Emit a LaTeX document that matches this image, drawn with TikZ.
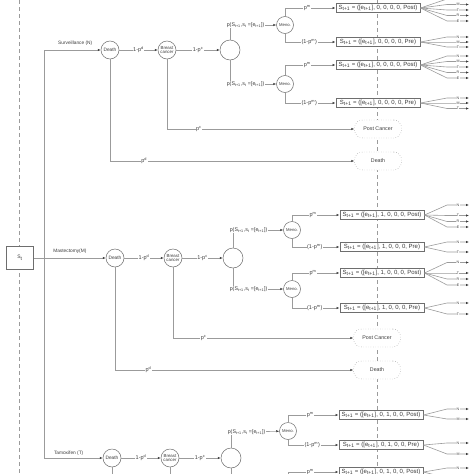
\documentclass[tikz,border=0pt]{standalone}
\usepackage{fontspec}
\setmainfont{Liberation Sans}
\setsansfont{Liberation Sans}
\usepackage{tikz}
\usetikzlibrary{
  arrows.meta,
  positioning,  % Function "of" (e.g. [right=of x])
  calc,         % Calculations $...$
}
\definecolor{wiregray}{HTML}{9B9B9B}
\definecolor{inkgray}{HTML}{3C3C3C}
\definecolor{edgegray}{HTML}{6E6E6E}
\newcommand{\snext}[1]{S\textsubscript{t+1} = ([e\textsubscript{t+1}], #1)}
\newcommand{\pjoint}{p(S\textsubscript{t+1},s\textsubscript{t} =[e\textsubscript{t+1}])}
\newcommand{\pdeath}{p\textsuperscript{d}}
\newcommand{\pcancer}{p\textsuperscript{c}}
\newcommand{\pmen}{p\textsuperscript{m}}
% One action of the fan behind a state box: box, shift in y, action letter
\newcommand{\act}[3]{
  \coordinate (#1-#3) at ($(#1.east)+(0,#2)$);
  \draw[flow] (#1.east) -- (#1-#3 -| knee) -- node[acttag]{#3} (#1-#3 -| tip);
}
\tikzset{
  font=\sffamily,
  >={Latex[length=3pt,width=2.4pt,color=inkgray]},
  wire/.style={
    draw=wiregray,
    line width=0.6pt
  },
  flow/.style={
    wire,
    ->
  },
  timeline/.style={
    draw=wiregray,
    line width=0.6pt,
    dash pattern=on 4pt off 3pt
  },
  rootbox/.style={
    draw=edgegray,
    fill=white,
    line width=0.8pt,
    minimum width=27pt,
    minimum height=23pt,
    inner sep=0pt,
    text=inkgray,
    font=\sffamily\fontsize{5}{6}\selectfont
  },
  event/.style={
    circle,
    draw=edgegray,
    fill=white,
    line width=0.5pt,
    minimum size=18pt,
    inner sep=0pt,
    align=center,
    text=inkgray,
    font=\sffamily\fontsize{4.8}{5}\selectfont
  },
  bcfont/.style={
    font=\sffamily\fontsize{4.4}{4.6}\selectfont
  },
  chance/.style={
    circle,
    draw=edgegray,
    fill=white,
    line width=0.5pt,
    minimum size=20pt,
    inner sep=0pt
  },
  meno/.style={
    circle,
    draw=edgegray,
    fill=white,
    line width=0.5pt,
    minimum size=17pt,
    inner sep=0pt,
    text=inkgray,
    font=\sffamily\fontsize{4.2}{4.5}\selectfont
  },
  plab/.style={
    anchor=west,
    inner sep=0.6pt,
    text=inkgray,
    font=\sffamily\fontsize{5.3}{6}\selectfont
  },
  statebox/.style={
    draw=edgegray,
    fill=white,
    line width=1pt,
    minimum width=84pt,
    minimum height=9.5pt,
    inner sep=0.8pt,
    text=inkgray,
    font=\sffamily\fontsize{6}{7}\selectfont
  },
  absorb/.style={
    draw=edgegray,
    dotted,
    fill=white,
    rounded corners=8pt,
    minimum width=47pt,
    minimum height=18pt,
    inner sep=0.5pt,
    text=inkgray,
    font=\sffamily\fontsize{5.3}{6}\selectfont
  },
  prob/.style={
    fill=white,
    inner sep=0.6pt,
    text=inkgray,
    font=\sffamily\fontsize{5.5}{6}\selectfont
  },
  branchlab/.style={
    text=inkgray,
    inner sep=0.5pt,
    font=\sffamily\fontsize{4.8}{5}\selectfont
  },
  acttag/.style={
    fill=white,
    inner sep=0.3pt,
    text=inkgray,
    font=\sffamily\fontsize{3.6}{4}\selectfont
  }
}

\begin{document}
\begin{tikzpicture}[x=1pt,y=-1pt]
\clip (0,0) rectangle (474,474);
% time slices t and t+1
\coordinate (now-top)  at (19,0);
\coordinate (now-bot)  at (19,474);
\coordinate (next-top) at (377,0);
\coordinate (next-bot) at (377,474);
\coordinate (knee)     at (447,0);
\coordinate (tip)      at (469,0);
\draw[timeline] (now-top)  -- (now-bot);
\draw[timeline] (next-top) -- (next-bot);

% decision
\node[rootbox] (s) at (20,258) {S\textsubscript{t}};
\coordinate (N-root) at (44,50);
\coordinate (T-root) at (44,458);
\draw[wire] (N-root) -- (T-root);

% Surveillance
\node[event]        (N-death) at (110,50)  {Death};
\node[event,bcfont] (N-bc)    at (167,50)  {Breast\\cancer};
\node[chance]       (N-ch)    at (230,50)  {};
\node[plab]         (N-pu)    at (226,25)  {\pjoint};
\node[plab]         (N-pl)    at (226,84)  {\pjoint};
\node[meno]         (N-mu)    at (285,25)  {Meno.};
\node[meno]         (N-ml)    at (285,84)  {Meno.};
\node[statebox]     (N-b1)    at (378,8)   {\snext{0, 0, 0, 0, Post}};
\node[statebox]     (N-b2)    at (378,42)  {\snext{0, 0, 0, 0, Pre}};
\node[statebox]     (N-b3)    at (378,65)  {\snext{0, 0, 0, 0, Post}};
\node[statebox]     (N-b4)    at (378,103) {\snext{0, 0, 0, 0, Pre}};
\node[absorb]       (N-pc)    at (378,129) {Post Cancer};
\node[absorb]       (N-dd)    at (378,161) {Death};
\draw[flow] (N-root)  -- node[branchlab,above=4pt,pos=0.55]{Surveillance (N)} (N-death);
\draw[flow] (N-death) -- node[prob]{1-\pdeath} (N-bc);
\draw[flow] (N-bc)    -- node[prob]{1-\pcancer} (N-ch);
\draw[wire] (N-ch.north) -- (N-ch.north |- N-pu.south);
\draw[wire] (N-ch.south) -- (N-ch.south |- N-pl.north);
\draw[flow] (N-pu) -- (N-mu);
\draw[flow] (N-pl) -- (N-ml);
\draw[flow] (N-mu.north) |- node[prob,pos=0.72]{\pmen}     (N-b1);
\draw[flow] (N-mu.south) |- node[prob,pos=0.74]{(1-\pmen)} (N-b2);
\draw[flow] (N-ml.north) |- node[prob,pos=0.72]{\pmen}     (N-b3);
\draw[flow] (N-ml.south) |- node[prob,pos=0.74]{(1-\pmen)} (N-b4);
\draw[flow] (N-bc.south)    |- node[prob,pos=0.585]{\pcancer} (N-pc);
\draw[flow] (N-death.south) |- node[prob,pos=0.57]{\pdeath}   (N-dd);
\act{N-b1}{-9}{N} \act{N-b1}{-3.5}{M} \act{N-b1}{2}{T} \act{N-b1}{7.5}{R} \act{N-b1}{13}{E}
\act{N-b2}{-5}{N} \act{N-b2}{0}{M} \act{N-b2}{5}{T}
\act{N-b3}{-9}{N} \act{N-b3}{-3.5}{M} \act{N-b3}{2}{T} \act{N-b3}{7.5}{R} \act{N-b3}{13}{E}
\act{N-b4}{-5}{N} \act{N-b4}{0}{M} \act{N-b4}{5.5}{T}

% Mastectomy
\node[event]        (M-death) at (115,258) {Death};
\node[event,bcfont] (M-bc)    at (173,258) {Breast\\cancer};
\node[chance]       (M-ch)    at (233,258) {};
\node[plab]         (M-pu)    at (229,230) {\pjoint};
\node[plab]         (M-pl)    at (229,289) {\pjoint};
\node[meno]         (M-mu)    at (292,230) {Meno.};
\node[meno]         (M-ml)    at (292,289) {Meno.};
\node[statebox]     (M-b1)    at (382,215) {\snext{1, 0, 0, 0, Post}};
\node[statebox]     (M-b2)    at (382,247) {\snext{1, 0, 0, 0, Pre}};
\node[statebox]     (M-b3)    at (382,273) {\snext{1, 0, 0, 0, Post}};
\node[statebox]     (M-b4)    at (382,308) {\snext{1, 0, 0, 0, Pre}};
\node[absorb]       (M-pc)    at (377,338) {Post Cancer};
\node[absorb]       (M-dd)    at (377,370) {Death};
\draw[flow] (s)       -- node[branchlab,above=4pt]{Mastectomy(M)} (M-death);
\draw[flow] (M-death) -- node[prob]{1-\pdeath} (M-bc);
\draw[flow] (M-bc)    -- node[prob]{1-\pcancer} (M-ch);
\draw[wire] (M-ch.north) -- (M-ch.north |- M-pu.south);
\draw[wire] (M-ch.south) -- (M-ch.south |- M-pl.north);
\draw[flow] (M-pu) -- (M-mu);
\draw[flow] (M-pl) -- (M-ml);
\draw[flow] (M-mu.north) |- node[prob,pos=0.72]{\pmen}     (M-b1);
\draw[flow] (M-mu.south) |- node[prob,pos=0.74]{(1-\pmen)} (M-b2);
\draw[flow] (M-ml.north) |- node[prob,pos=0.72]{\pmen}     (M-b3);
\draw[flow] (M-ml.south) |- node[prob,pos=0.74]{(1-\pmen)} (M-b4);
\draw[flow] (M-bc.south)    |- node[prob,pos=0.585]{\pcancer} (M-pc);
\draw[flow] (M-death.south) |- node[prob,pos=0.57]{\pdeath}   (M-dd);
\act{M-b1}{-10}{N} \act{M-b1}{0.5}{T} \act{M-b1}{6.5}{R} \act{M-b1}{12}{E}
\act{M-b2}{-5}{N} \act{M-b2}{5}{T}
\act{M-b3}{-10.5}{N} \act{M-b3}{0}{T} \act{M-b3}{6}{R} \act{M-b3}{12}{E}
\act{M-b4}{-5}{N} \act{M-b4}{6}{T}

% Tamoxifen (runs on below the frame)
\node[event]        (T-death) at (112,458) {Death};
\node[event,bcfont] (T-bc)    at (170,458) {Breast\\cancer};
\node[chance]       (T-ch)    at (231,458) {};
\node[plab]         (T-pu)    at (227,432) {\pjoint};
\node[meno]         (T-mu)    at (288,431) {Meno.};
\node[statebox]     (T-b1)    at (381,415) {\snext{0, 1, 0, 0, Post}};
\node[statebox]     (T-b2)    at (381,445) {\snext{0, 1, 0, 0, Pre}};
\node[statebox]     (T-b3)    at (381,472) {\snext{0, 1, 0, 0, Post}};
\coordinate (T-ml) at (288,482);
\coordinate (T-pl) at (231,474);
\coordinate (T-pc) at (170,474);
\coordinate (T-dd) at (112,474);
\draw[flow] (T-root)  -- node[branchlab,above=1.5pt,pos=0.42]{Tamoxifen (T)} (T-death);
\draw[flow] (T-death) -- node[prob]{1-\pdeath} (T-bc);
\draw[flow] (T-bc)    -- node[prob]{1-\pcancer} (T-ch);
\draw[wire] (T-ch.north) -- (T-ch.north |- T-pu.south);
\draw[wire] (T-ch.south) -- (T-pl);
\draw[flow] (T-pu) -- (T-mu);
\draw[flow] (T-mu.north) |- node[prob,pos=0.72]{\pmen}     (T-b1);
\draw[flow] (T-mu.south) |- node[prob,pos=0.74]{(1-\pmen)} (T-b2);
\draw[flow] (T-ml) |- node[prob,pos=0.72]{\pmen} (T-b3);
\draw[wire] (T-bc.south)    -- (T-pc);
\draw[wire] (T-death.south) -- (T-dd);
\act{T-b1}{-6}{N} \act{T-b1}{4}{M}
\act{T-b2}{-2}{N} \act{T-b2}{9}{M}
\act{T-b3}{-4}{N} \act{T-b3}{6}{M}
\end{tikzpicture}
\end{document}
